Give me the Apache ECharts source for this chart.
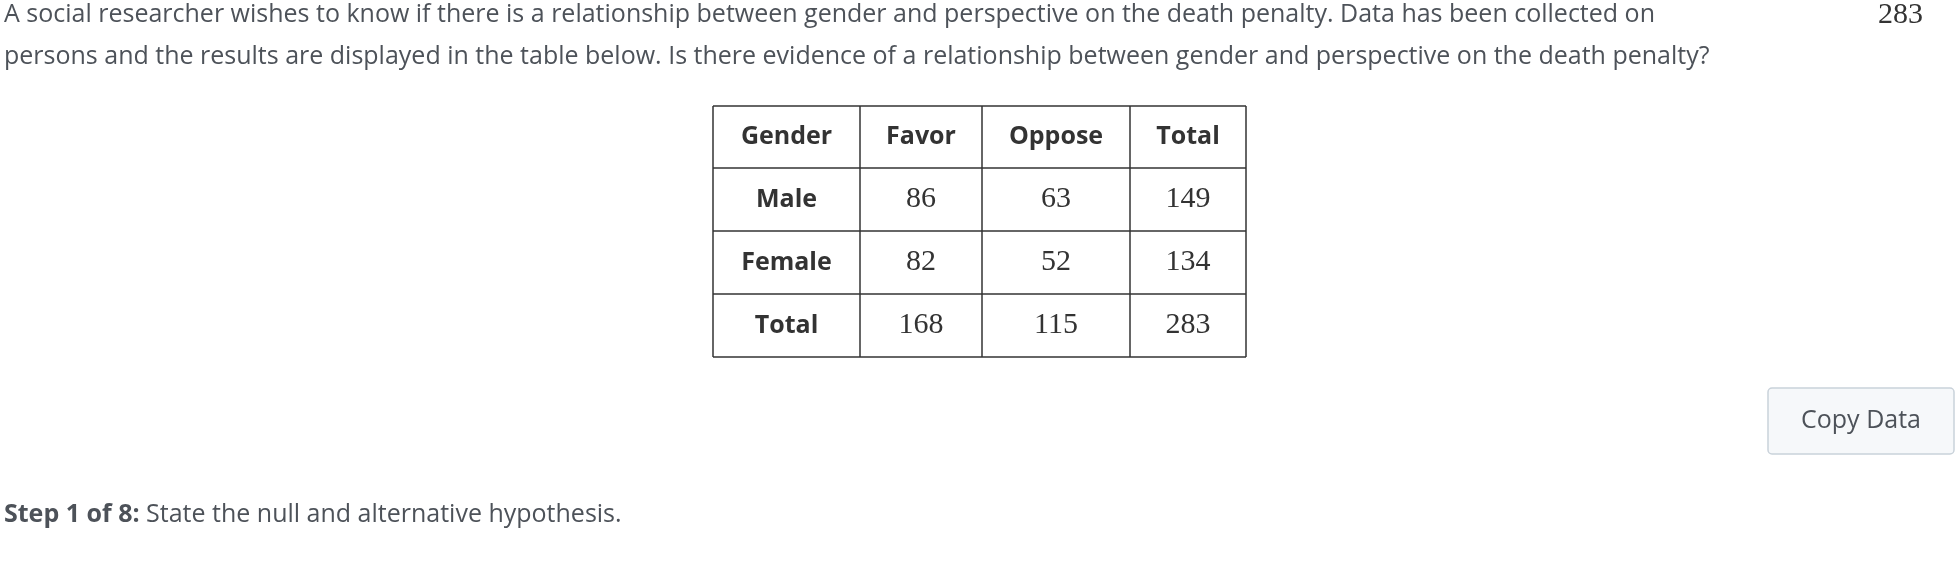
<!DOCTYPE html>
<html><head><meta charset="utf-8">
<script src="https://cdn.jsdelivr.net/npm/echarts@6/dist/echarts.min.js"></script>
<style>html,body{margin:0;padding:0;background:#fff}#main{width:1960px;height:566px}</style>
</head><body><div id="main"></div>
<script>
var myChart = echarts.init(document.getElementById('main'));

var headers = ['Gender', 'Favor', 'Oppose', 'Total'];
var rowLabels = ['Male', 'Female', 'Total'];
var favor = [86, 82, 168];
var oppose = [63, 52, 115];
var totals = [149, 134, 283];

var colX = [713, 860, 982, 1130, 1246];
var rowY = [106, 168, 231, 294, 357];
var sans = '"Open Sans", sans-serif';
var serif = '"Liberation Serif", serif';
var grey = '#4d5259';

var els = [];
// question text
els.push({ type: 'text', left: 4, top: 2, style: { text: 'A social researcher wishes to know if there is a relationship between gender and perspective on the death penalty. Data has been collected on', font: '25px ' + sans, fill: grey } });
els.push({ type: 'text', left: 1878, top: 0, style: { text: '283', font: '30px ' + serif, fill: '#333' } });
els.push({ type: 'text', left: 4, top: 44, style: { text: 'persons and the results are displayed in the table below. Is there evidence of a relationship between gender and perspective on the death penalty?', font: '25px ' + sans, fill: grey } });

// table grid
for (var i = 0; i < colX.length; i++) {
  els.push({ type: 'line', shape: { x1: colX[i], y1: rowY[0], x2: colX[i], y2: rowY[rowY.length - 1] }, style: { stroke: '#333', lineWidth: 1.5 } });
}
for (var j = 0; j < rowY.length; j++) {
  els.push({ type: 'line', shape: { x1: colX[0], y1: rowY[j], x2: colX[colX.length - 1], y2: rowY[j] }, style: { stroke: '#333', lineWidth: 1.5 } });
}
function cell(c, r, txt, font) {
  els.push({ type: 'text', x: (colX[c] + colX[c + 1]) / 2, y: (rowY[r] + rowY[r + 1]) / 2,
    style: { text: String(txt), font: font, fill: '#333', align: 'center', verticalAlign: 'middle' } });
}
headers.forEach(function (h, c) { cell(c, 0, h, 'bold 25px ' + sans); });
rowLabels.forEach(function (l, r) {
  cell(0, r + 1, l, 'bold 25px ' + sans);
  cell(1, r + 1, favor[r], '30px ' + serif);
  cell(2, r + 1, oppose[r], '30px ' + serif);
  cell(3, r + 1, totals[r], '30px ' + serif);
});

// copy data button
els.push({ type: 'rect', shape: { x: 1768, y: 388, width: 186, height: 66, r: 4 }, style: { fill: '#f6f8fa', stroke: '#c9d2da', lineWidth: 1.5 } });
els.push({ type: 'text', x: 1861, y: 421, style: { text: 'Copy Data', font: '25px ' + sans, fill: grey, align: 'center', verticalAlign: 'middle' } });

// step line
els.push({ type: 'text', left: 4, top: 502, style: { text: '{b|Step 1 of 8:} State the null and alternative hypothesis.', font: '25px ' + sans, fill: grey,
  rich: { b: { font: 'bold 25px ' + sans, fill: grey } } } });

myChart.setOption({ graphic: { elements: els } });
</script></body></html>
